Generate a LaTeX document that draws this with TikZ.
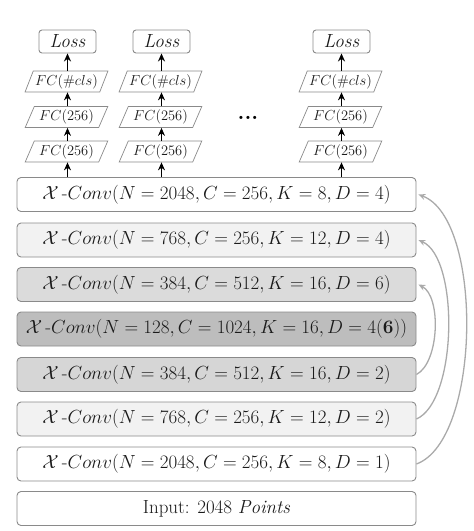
\RequirePackage{fix-cm}
\documentclass[tikz,border=0pt]{standalone}
\usetikzlibrary{shapes.geometric,arrows.meta}
\definecolor{bord}{HTML}{8A8A8A}
\definecolor{skip}{HTML}{AAAAAA}
\definecolor{txt}{HTML}{1A1A1A}
\begin{document}
\begin{tikzpicture}[x=1pt,y=-1pt,
  convbox/.style={draw=bord,line width=0.9pt,rounded corners=4pt,minimum width=399pt,minimum height=34pt,inner sep=0pt,text=txt,font=\fontsize{19}{22}\selectfont},
  lossbox/.style={draw=bord,line width=0.9pt,rounded corners=3pt,minimum width=57pt,minimum height=23pt,inner sep=0pt,text=txt,font=\fontsize{19}{21}\selectfont},
  fcbox/.style={trapezium,trapezium left angle=62,trapezium right angle=118,trapezium stretches=true,draw=bord,line width=0.7pt,fill=white,minimum width=83pt,minimum height=21pt,inner sep=0pt,text=txt,font=\fontsize{14.5}{16}\selectfont},
  uparr/.style={-{Stealth[length=8pt,width=7pt]},line width=1.8pt,black},
  skiparr/.style={-{Stealth[length=7pt,width=6pt,open]},line width=1.3pt,draw=skip}]
\useasboundingbox (0,0) rectangle (474,531);
% conv boxes
\node[convbox,fill=white] (b1) at (216.5,194.5) {$\mathcal{X}\,\mbox{-}Conv(N = 2048, C = 256, K = 8, D = 4)$};
\node[convbox,fill=black!5] (b2) at (216.5,240) {$\mathcal{X}\,\mbox{-}Conv(N = 768, C = 256, K = 12, D = 4)$};
\node[convbox,fill=black!14] (b3) at (216.5,284.5) {$\mathcal{X}\,\mbox{-}Conv(N = 384, C = 512, K = 16, D = 6)$};
\node[convbox,fill=black!26] (b4) at (216.5,329) {$\mathcal{X}\,\mbox{-}Conv(N = 128, C = 1024, K = 16, D = 4(\mathbf{6}))$};
\node[convbox,fill=black!16] (b5) at (216.5,374.5) {$\mathcal{X}\,\mbox{-}Conv(N = 384, C = 512, K = 16, D = 2)$};
\node[convbox,fill=black!5] (b6) at (216.5,419) {$\mathcal{X}\,\mbox{-}Conv(N = 768, C = 256, K = 12, D = 2)$};
\node[convbox,fill=white] (b7) at (216.5,464) {$\mathcal{X}\,\mbox{-}Conv(N = 2048, C = 256, K = 8, D = 1)$};
\node[convbox,fill=white] (in) at (216.5,508.5) {Input: 2048 \textit{Points}};
% heads
\foreach \c/\x in {a/67.5,b/161.5,c/341.5}{
  \node[lossbox] (loss\c) at (\x,41.5) {\textit{Loss}};
  \node[fcbox] (fc\c3) at (\x-1,81.5) {$FC(\#cls)$};
  \node[fcbox] (fc\c2) at (\x-1,117) {$FC(256)$};
  \node[fcbox] (fc\c1) at (\x-1,151.5) {$FC(256)$};
  \draw[uparr] (b1.north -| loss\c.south) -- (fc\c1.south -| loss\c.south);
  \draw[uparr] (fc\c1.north -| loss\c.south) -- (fc\c2.south -| loss\c.south);
  \draw[uparr] (fc\c2.north -| loss\c.south) -- (fc\c3.south -| loss\c.south);
  \draw[uparr] (fc\c3.north -| loss\c.south) -- (loss\c.south);
}
\node[font=\fontsize{22}{24}\selectfont\bfseries] (dots) at (248,118) {...};
% skip connections
\draw[skiparr] (b7.east) .. controls +(65,-24) and +(65,24) .. ([xshift=2pt]b1.east);
\draw[skiparr] (b6.east) .. controls +(41,-18) and +(41,18) .. ([xshift=2pt]b2.east);
\draw[skiparr] (b5.east) .. controls +(23,-12) and +(23,12) .. ([xshift=2pt]b3.east);
\end{tikzpicture}
\end{document}
